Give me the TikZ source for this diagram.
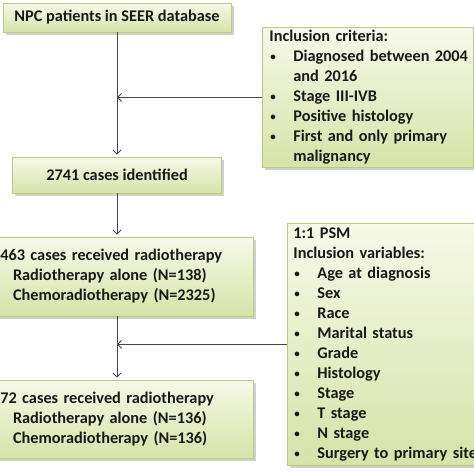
\documentclass[tikz,border=0pt]{standalone}
\usepackage{fontspec}
\setmainfont{Carlito}
\usetikzlibrary{arrows.meta,shadows,calc}
\definecolor{boxtop}{RGB}{246,249,232}
\definecolor{boxbot}{RGB}{214,227,168}
\definecolor{boxline}{RGB}{185,202,130}
\definecolor{linegray}{RGB}{70,70,70}
\definecolor{txtcol}{RGB}{25,25,25}
\newcommand{\itm}[1]{\makebox[24pt][l]{\hspace{1pt}\raisebox{1pt}{\fontsize{11}{11}\selectfont\textbullet}}\mbox{#1}}
\tikzset{
    box/.style={draw=boxline, line width=0.8pt, top color=boxtop, bottom color=boxbot,
        drop shadow={shadow xshift=2.5pt, shadow yshift=-2.5pt, opacity=0.3, fill=black!60},
        text=txtcol, font=\bfseries\fontsize{16.3}{20}\selectfont, inner sep=0pt},
    listbox/.style={box, anchor=north west, align=left},
    flow/.style={-{Straight Barb[length=4pt,width=8pt]}, linegray, line width=0.9pt}
}
\begin{document}
\begin{tikzpicture}[x=1pt, y=-1pt]
    \useasboundingbox (0,0) rectangle (474,474);
    \fill[white] (0,0) rectangle (474,474);
    \clip (0,0) rectangle (474,474);

    \node[box, minimum width=228pt, minimum height=29pt] (npc) at (117,17.5) {NPC patients in SEER database};
    \node[box, minimum width=209pt, minimum height=36pt] (cases) at (117,175) {2741 cases identified};
    \node[box, text width=250pt, inner xsep=11pt, minimum height=79pt, align=left] (rt) at (117,276.5)
        {2463 cases received radiotherapy\\ \hspace*{21pt}Radiotherapy alone (N=138)\\ \hspace*{21pt}Chemoradiotherapy (N=2325)};
    \node[box, text width=250pt, inner xsep=11pt, minimum height=78pt, align=left] (psmrt) at (117,419)
        {272 cases received radiotherapy\\ \hspace*{21pt}Radiotherapy alone (N=136)\\ \hspace*{21pt}Chemoradiotherapy (N=136)};

    % criteria boxes on the right
    \node[listbox, text width=197pt, inner xsep=7pt, minimum height=140pt] (crit) at (262,27)
        {Inclusion criteria:\\ \itm{Diagnosed between 2004}\\ \hspace*{24pt}and 2016\\ \itm{Stage III-IVB}\\
         \itm{Positive histology}\\ \itm{First and only primary}\\ \hspace*{24pt}malignancy};
    \node[listbox, text width=200pt, inner xsep=6pt, minimum height=242pt] (psm) at (287,223)
        {1:1 PSM\\ Inclusion variables:\\ \itm{Age at diagnosis}\\ \itm{Sex}\\ \itm{Race}\\ \itm{Marital status}\\
         \itm{Grade}\\ \itm{Histology}\\ \itm{Stage}\\ \itm{T stage}\\ \itm{N stage}\\ \itm{Surgery to primary site}};

    \draw[flow, shorten >=2pt] (npc) -- (cases);
    \draw[flow, shorten >=2pt] (cases) -- (rt);
    \draw[flow, shorten >=2pt] (rt) -- (psmrt);
    \draw[flow] (crit.west) -- (crit.west -| npc.south);
    \draw[flow] (psm.west) -- (psm.west -| rt.south);
\end{tikzpicture}
\end{document}
